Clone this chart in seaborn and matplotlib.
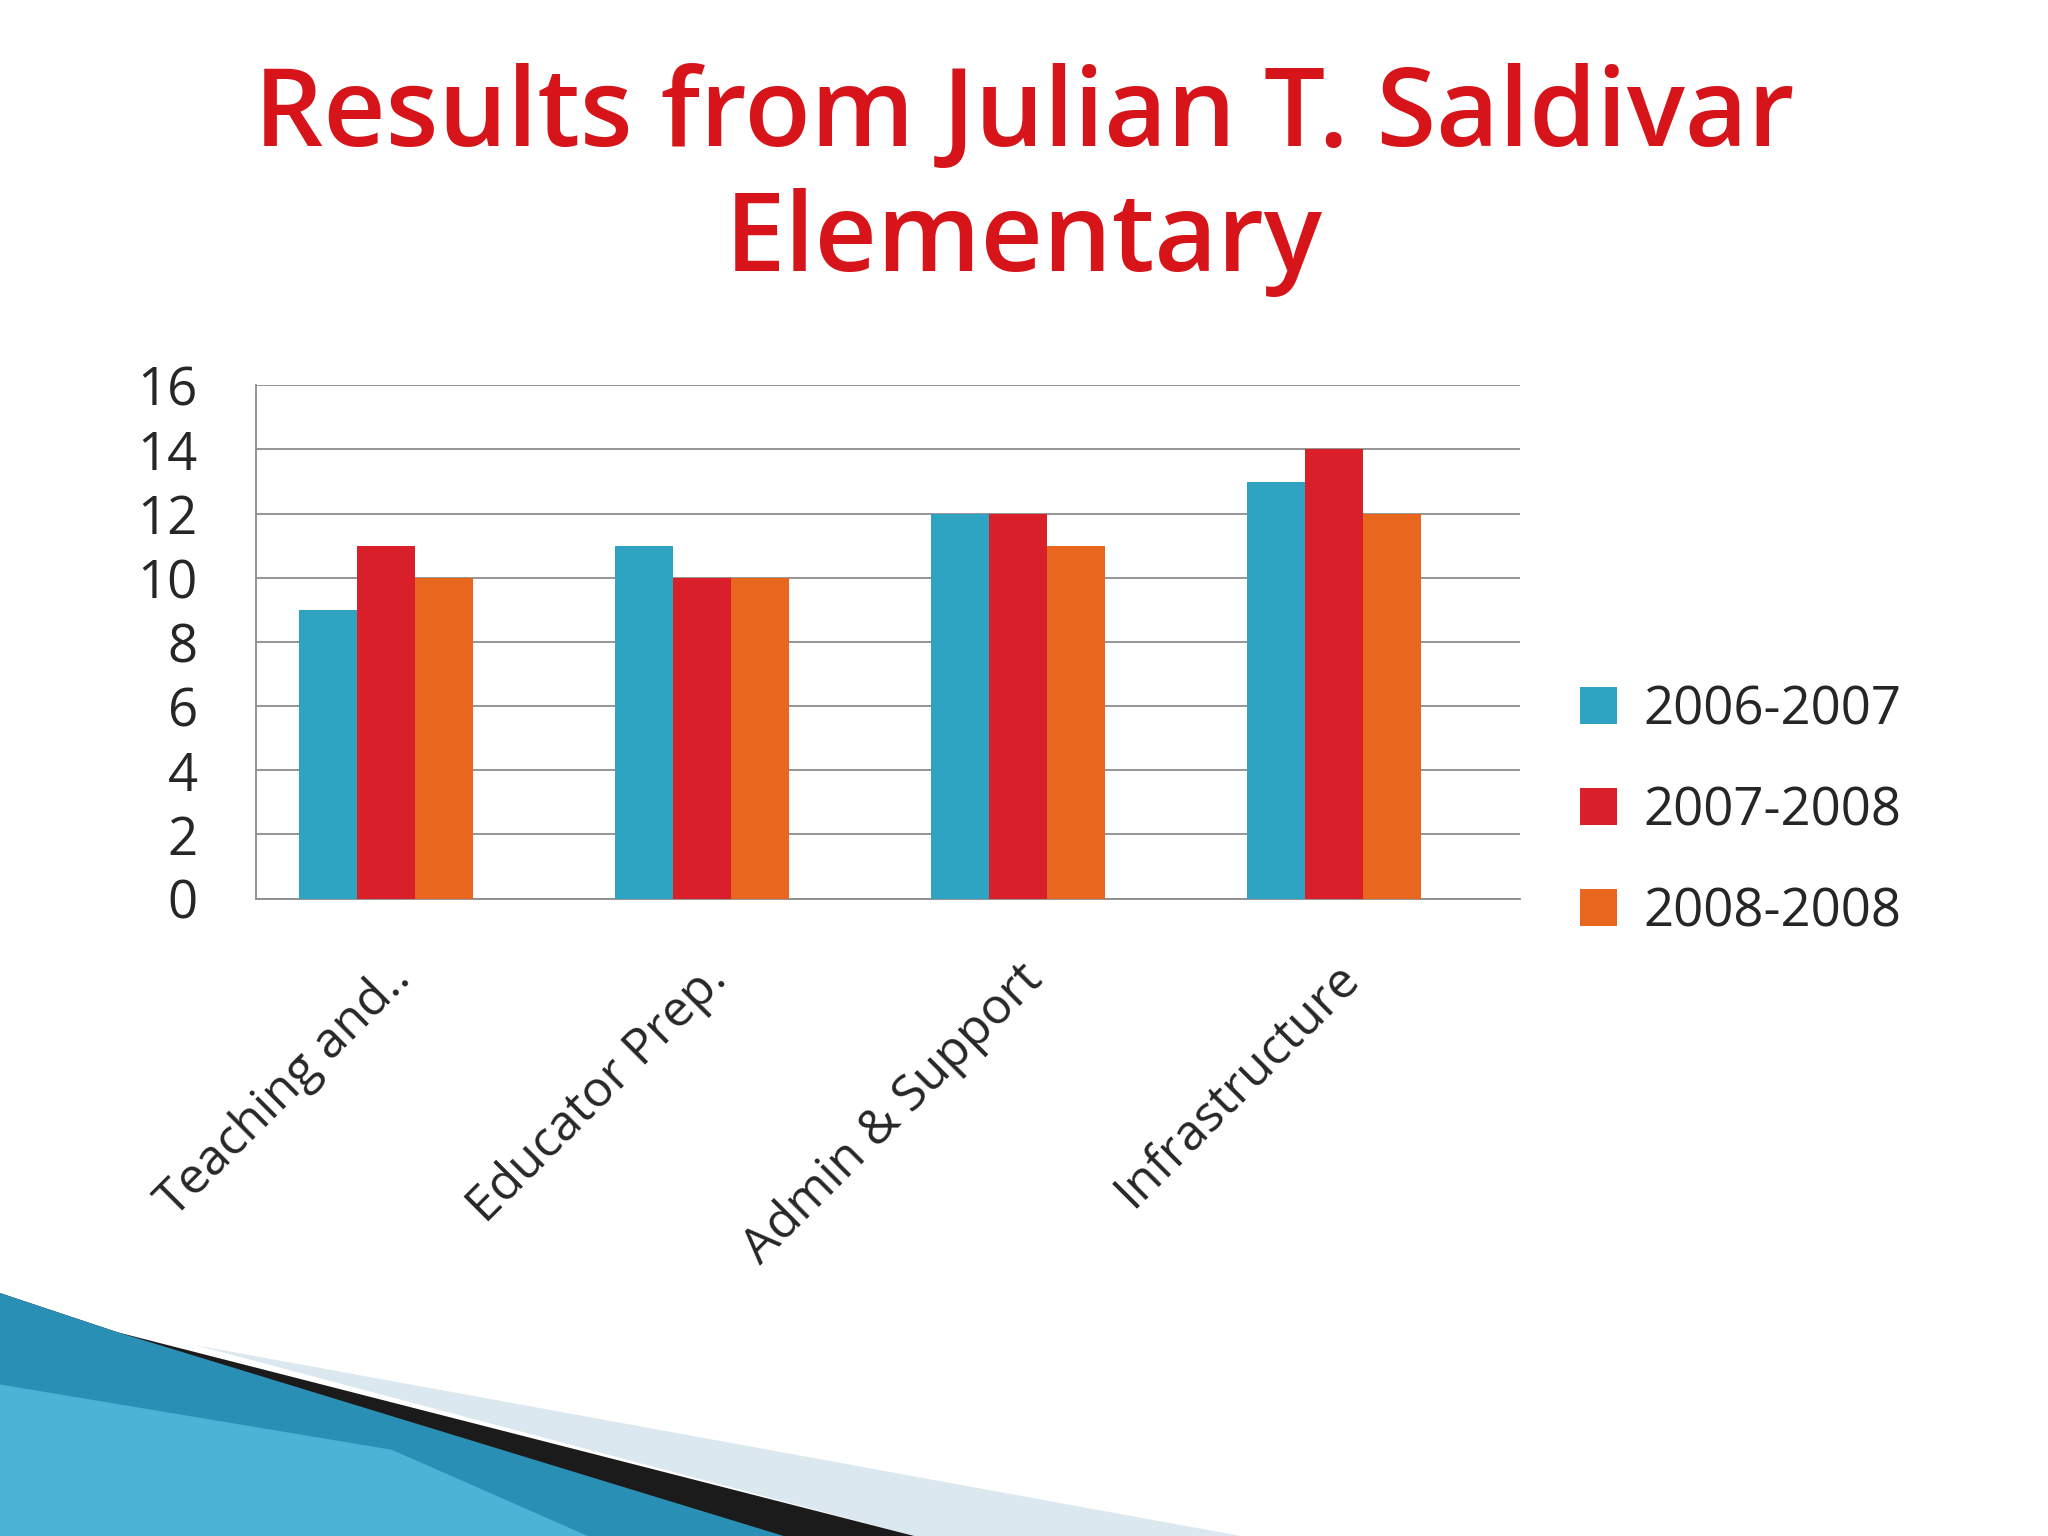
import pandas as pd
import matplotlib.pyplot as plt
import seaborn as sns
from matplotlib.patches import Polygon

categories = ['Teaching and..', 'Educator Prep.', 'Admin & Support', 'Infrastructure']
years = ['2006-2007', '2007-2008', '2008-2008']
v_0607 = [9, 11, 12, 13]
v_0708 = [11, 10, 12, 14]
v_0808 = [10, 10, 11, 12]
colors = ['#2EA4C2', '#D9202A', '#E8661E']

rows = []
for yr, vals in zip(years, [v_0607, v_0708, v_0808]):
    for c, v in zip(categories, vals):
        rows.append({'cat': c, 'year': yr, 'value': v})
df = pd.DataFrame(rows)

sns.set_style('white')
plt.rcParams['font.family'] = ['Open Sans', 'DejaVu Sans']

W, H = 1568, 1176
fig = plt.figure(figsize=(20.48, 15.36), dpi=100)

# decorative shapes bottom-left (in reference pixel coords)
def fpoly(pts, color, z):
    p = Polygon([(x / W, 1 - y / H) for x, y in pts], closed=True,
                transform=fig.transFigure, facecolor=color, edgecolor='none', zorder=z)
    fig.patches.append(p)

fpoly([(150, 1030), (950, 1176), (700, 1176)], '#DCE8F0', 0)
fpoly([(0, 990), (90, 1020), (700, 1176), (0, 1176)], '#1B1B1B', 1)
fpoly([(0, 990), (90, 1020), (600, 1176), (0, 1176)], '#2A8FB5', 2)
fpoly([(0, 1060), (300, 1110), (450, 1176), (0, 1176)], '#4DB3D6', 3)

fig.text(0.5, 1 - 90 / H, 'Results from Julian T. Saldivar', ha='center', va='center',
         fontsize=78, color='#D7141A', fontweight='semibold')
fig.text(0.5, 1 - 186 / H, 'Elementary', ha='center', va='center',
         fontsize=78, color='#D7141A', fontweight='semibold')

ax = fig.add_axes([196 / W, 1 - 688 / H, (1164 - 196) / W, (688 - 295) / H])
sns.barplot(data=df, x='cat', y='value', hue='year', palette=colors,
            width=0.55, saturation=1, linewidth=0, ax=ax, zorder=3)
ax.set_ylim(0, 16)
ax.set_xlim(-0.41, 3.59)
ax.set_yticks(range(0, 17, 2))
ax.yaxis.grid(True, color='#8C8C8C', linewidth=1.3, zorder=0)
ax.set_axisbelow(True)
ax.set_xlabel('')
ax.set_ylabel('')
for s in ['top', 'right']:
    ax.spines[s].set_visible(False)
for s in ['left', 'bottom']:
    ax.spines[s].set_color('#8C8C8C')
    ax.spines[s].set_linewidth(1.3)
ax.tick_params(axis='y', labelsize=38, length=12, color='#8C8C8C', pad=30)
ax.set_xticks([-0.41, 0.59, 1.59, 2.59, 3.59], minor=True)
ax.tick_params(axis='x', which='minor', length=12, color='#8C8C8C')
ax.tick_params(axis='x', which='major', length=0, labelsize=36, pad=40)
plt.setp(ax.get_xticklabels(), rotation=45, ha='right', rotation_mode='anchor')
ax.legend(loc='center left', bbox_to_anchor=(1.01, 0.17), frameon=False, fontsize=38,
          handlelength=0.7, handleheight=0.7, labelspacing=0.9, handletextpad=0.5)

fig.savefig('out.png', dpi=100)
